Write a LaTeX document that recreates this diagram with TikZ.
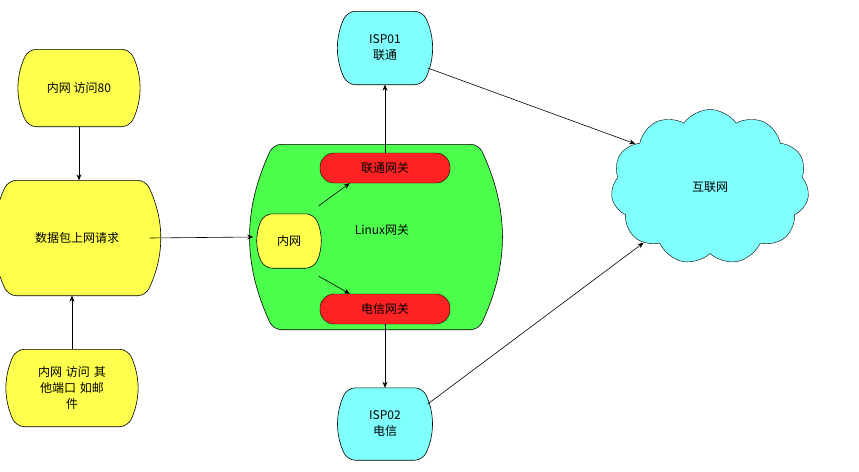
\documentclass[tikz,border=0pt]{standalone}
\usepackage{fontspec}
\setmainfont{Liberation Sans}
\newfontfamily\cjk{Noto Sans CJK SC}
\usetikzlibrary{shapes.symbols,backgrounds,arrows.meta}
\definecolor{yel}{HTML}{FFFF4D}
\definecolor{grn}{HTML}{4DFF4D}
\definecolor{rd}{HTML}{FF2222}
\definecolor{cy}{HTML}{80FFFF}
\newcommand\barrelbg[2]{\fill[#2,draw=black,line width=0.6pt,rounded corners=8pt] (#1.north) -- (#1.north east) to[bend left=25] (#1.south east) -- (#1.south west) to[bend left=25] (#1.north west) -- cycle;}
\begin{document}
\begin{tikzpicture}[x=1pt,y=-1pt,font=\cjk\fontsize{12}{16}\selectfont,
  box/.style={inner sep=0pt,align=center},
  pill/.style={draw,fill=rd,rounded corners=14pt,minimum width=130pt,minimum height=30pt,inner sep=0pt},
  arr/.style={-{Stealth[length=6pt,width=5pt]},line width=0.6pt}]
\useasboundingbox (0,0) rectangle (859,471);
\node[box,minimum width=101pt,minimum height=77pt] (a80) at (79,88) {内网 访问80};
\node[box,minimum width=137pt,minimum height=115pt] (req) at (77,238) {数据包上网请求};
\node[box,minimum width=111pt,minimum height=77pt,text width=100pt] (oth) at (72,388) {内网 访问 其\\他端口 如邮\\件};
\node[box,minimum width=205pt,minimum height=185pt] (gw) at (376,237) {};
\node at (382,230) {Linux网关};
\node[box,minimum width=49pt,minimum height=54pt] (ln) at (289,241) {内网};
\node[pill] (lt) at (385,168) {联通网关};
\node[pill] (dx) at (385,309) {电信网关};
\node[box,minimum width=75pt,minimum height=73pt] (isp1) at (385,48) {ISP01\\联通};
\node[box,minimum width=75pt,minimum height=72pt] (isp2) at (385,424) {ISP02\\电信};
\node[cloud,draw,fill=cy,cloud puffs=11,cloud puff arc=110,minimum width=198pt,minimum height=155pt,aspect=1.3] (net) at (710,187) {互联网};
\begin{scope}[on background layer]
\barrelbg{a80}{yel}
\barrelbg{req}{yel}
\barrelbg{oth}{yel}
\barrelbg{gw}{grn}
\barrelbg{isp1}{cy}
\barrelbg{isp2}{cy}
\end{scope}
\barrelbg{ln}{yel}
\node at (ln) {内网};
\draw[arr] (a80.south) -- (req.north-|a80.south);
\draw[arr] (oth.north) -- (req.south-|oth.north);
\draw[arr] ([xshift=4]req.east) -- ([xshift=-20]gw.west);
\draw[arr] ([xshift=5,yshift=8]ln.north east) -- ([xshift=30]lt.south west);
\draw[arr] ([xshift=5,yshift=-8]ln.south east) -- ([xshift=30]dx.north west);
\draw[arr] (lt.north) -- (isp1.south);
\draw[arr] (dx.south) -- (isp2.north);
\draw[arr] ([xshift=5,yshift=-20]isp1.east) -- (net.150);
\draw[arr] ([xshift=5,yshift=20]isp2.west -| isp2.east) -- (net.220);
\end{tikzpicture}
\end{document}
